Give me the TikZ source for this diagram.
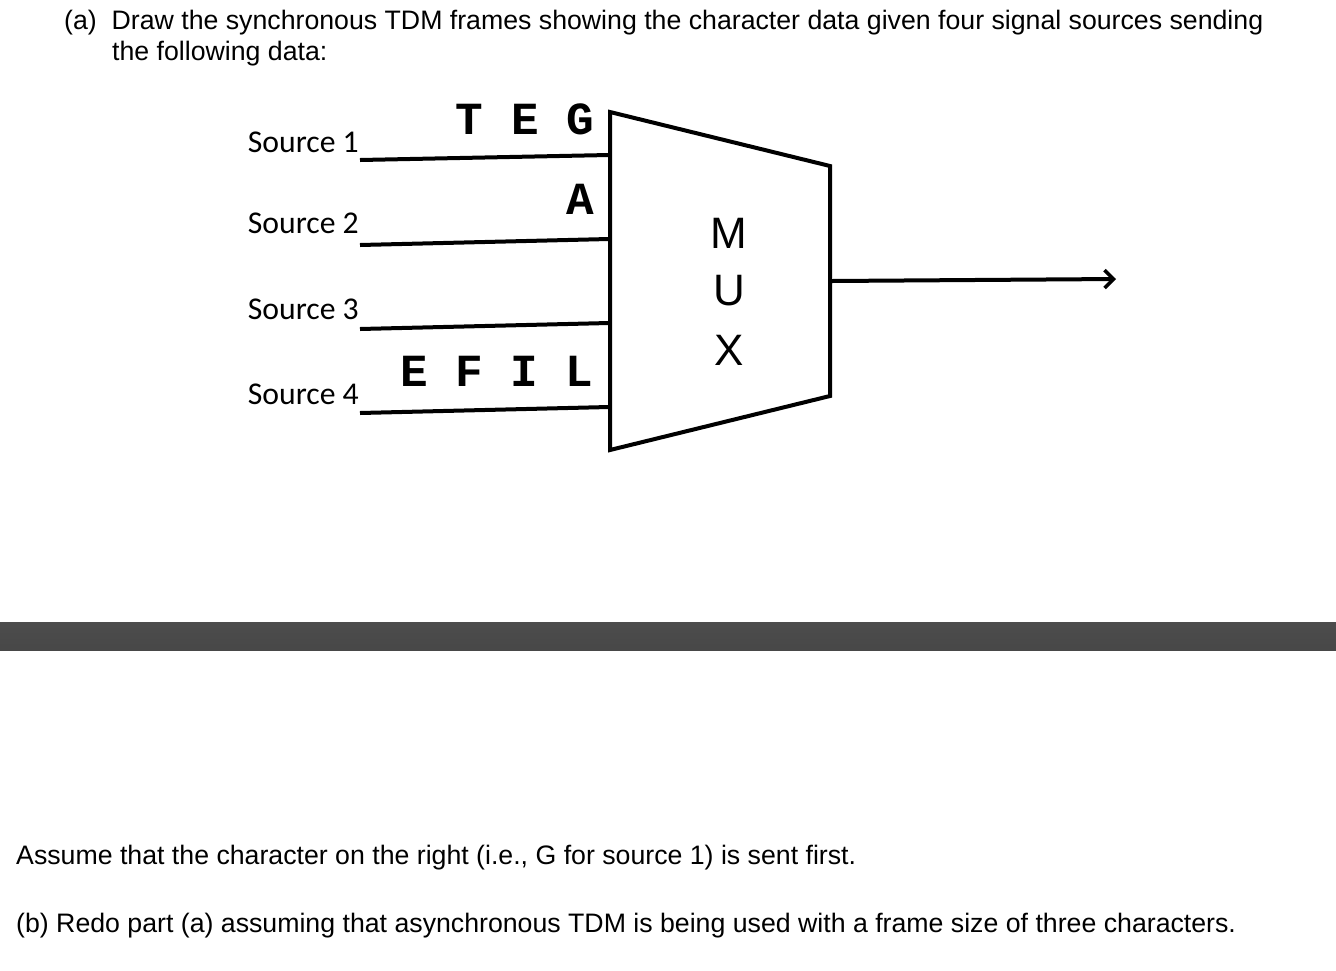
\documentclass[tikz,border=0pt]{standalone}
\usepackage{fontspec}
\setmainfont{Liberation Sans}
\newfontfamily\srcfont{Carlito}
\newfontfamily\monofont{Liberation Mono}
\usetikzlibrary{arrows.meta}
\begin{document}
\begin{tikzpicture}[x=1pt,y=-1pt,
  txt/.style={anchor=west,inner sep=0,font=\fontsize{26.7}{30}\selectfont},
  src/.style={anchor=east,inner sep=0,font=\srcfont\fontsize{31.7}{36}\selectfont},
  ch/.style={inner sep=0,font=\monofont\bfseries\fontsize{46}{50}\selectfont},
  mux/.style={inner sep=0,font=\fontsize{44}{48}\selectfont},
  wire/.style={line width=4pt}]
\useasboundingbox (0,0) rectangle (1336,970);
\shade[top color=black!70,bottom color=black!72] (0,622) rectangle (1336,650);
\node[txt] (t1) at (64,23) {(a)\ \ Draw the synchronous TDM frames showing the character data given four signal sources sending};
\node[txt] (t2) at (112,54) {the following data:};
\node[txt] (t3) at (16,858) {Assume that the character on the right (i.e., G for source 1) is sent first.};
\node[txt] (t4) at (16,926) {(b) Redo part (a) assuming that asynchronous TDM is being used with a frame size of three characters.};
\node[src] (s1) at (359,142) {Source 1};
\node[src] (s2) at (359,223) {Source 2};
\node[src] (s3) at (359,309) {Source 3};
\node[src] (s4) at (359,394) {Source 4};
\coordinate (a1) at (360,160); \coordinate (b1) at (609,155);
\coordinate (a2) at (360,245); \coordinate (b2) at (609,239);
\coordinate (a3) at (360,329); \coordinate (b3) at (609,323);
\coordinate (a4) at (360,413); \coordinate (b4) at (609,407);
\foreach \i in {1,2,3,4} \draw[wire] (a\i) -- (b\i);
\draw[wire,line join=miter] (610,112) -- (830,166) -- (830,396) -- (610,450) -- cycle;
\coordinate (o1) at (832,281); \coordinate (o2) at (1116,279);
\draw[wire,-{Straight Barb[length=9pt,width=18pt,line width=3.5pt]}] (o1) -- (o2);
\node[ch] (teg) at (525,119) {T E G};
\node[ch] (a) at (580,199) {A};
\node[ch] (efil) at (497,371) {E F I L};
\node[mux] (m) at (729,233) {M};
\node[mux] (u) at (729,291) {U};
\node[mux] (x) at (729,350) {X};
\end{tikzpicture}
\end{document}
